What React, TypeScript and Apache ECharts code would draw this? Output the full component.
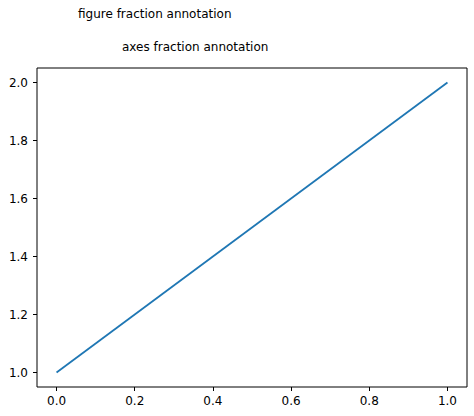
import React, { useEffect, useRef } from 'react';
import * as echarts from 'echarts';

// data
const xValues = [0, 1];
const yValues = [1, 2];
const xTicks = [0, 0.2, 0.4, 0.6, 0.8, 1.0];
const yTicks = [1.0, 1.2, 1.4, 1.6, 1.8, 2.0];
const annotations = [
  { text: 'figure fraction annotation', x: 78, y: 14 },
  { text: 'axes fraction annotation', x: 122, y: 47 },
];

const FONT = 'DejaVu Sans';

function buildOption(): echarts.EChartsOption {
  return {
    animation: false,
    grid: {
      left: 37,
      right: 7,
      top: 68,
      bottom: 29,
      show: true,
      borderColor: '#000',
      borderWidth: 1,
      backgroundColor: 'transparent',
    },
    xAxis: {
      type: 'value',
      min: -0.05,
      max: 1.05,
      axisLine: { show: false, onZero: false },
      splitLine: { show: false },
      axisTick: {
        show: true,
        customValues: xTicks,
        length: 4,
        lineStyle: { color: '#000', width: 1 },
      },
      axisLabel: {
        customValues: xTicks,
        formatter: (v: number) => v.toFixed(1),
        color: '#000',
        fontFamily: FONT,
        fontSize: 12,
        margin: 8,
      },
    },
    yAxis: {
      type: 'value',
      min: 0.95,
      max: 2.05,
      axisLine: { show: false, onZero: false },
      splitLine: { show: false },
      axisTick: {
        show: true,
        customValues: yTicks,
        length: 4,
        lineStyle: { color: '#000', width: 1 },
      },
      axisLabel: {
        customValues: yTicks,
        formatter: (v: number) => v.toFixed(1),
        color: '#000',
        fontFamily: FONT,
        fontSize: 12,
        margin: 9,
      },
    },
    series: [
      {
        type: 'line',
        data: xValues.map((x, i) => [x, yValues[i]]),
        showSymbol: false,
        silent: true,
        lineStyle: { color: '#1f77b4', width: 1.8 },
      },
    ],
    graphic: annotations.map(a => ({
      type: 'text',
      x: a.x,
      y: a.y,
      style: {
        text: a.text,
        fill: '#000',
        font: `12px "${FONT}"`,
        textVerticalAlign: 'middle',
      },
    })),
  };
}

export default function App() {
  const ref = useRef<HTMLDivElement | null>(null);

  useEffect(() => {
    document.body.style.margin = '0';
    if (!ref.current) return undefined;
    const chart = echarts.init(ref.current, undefined, { renderer: 'svg' });
    chart.setOption(buildOption());
    return () => {
      chart.dispose();
    };
  }, []);

  return <div ref={ref} style={{ width: 474, height: 416, background: '#fff' }} />;
}
